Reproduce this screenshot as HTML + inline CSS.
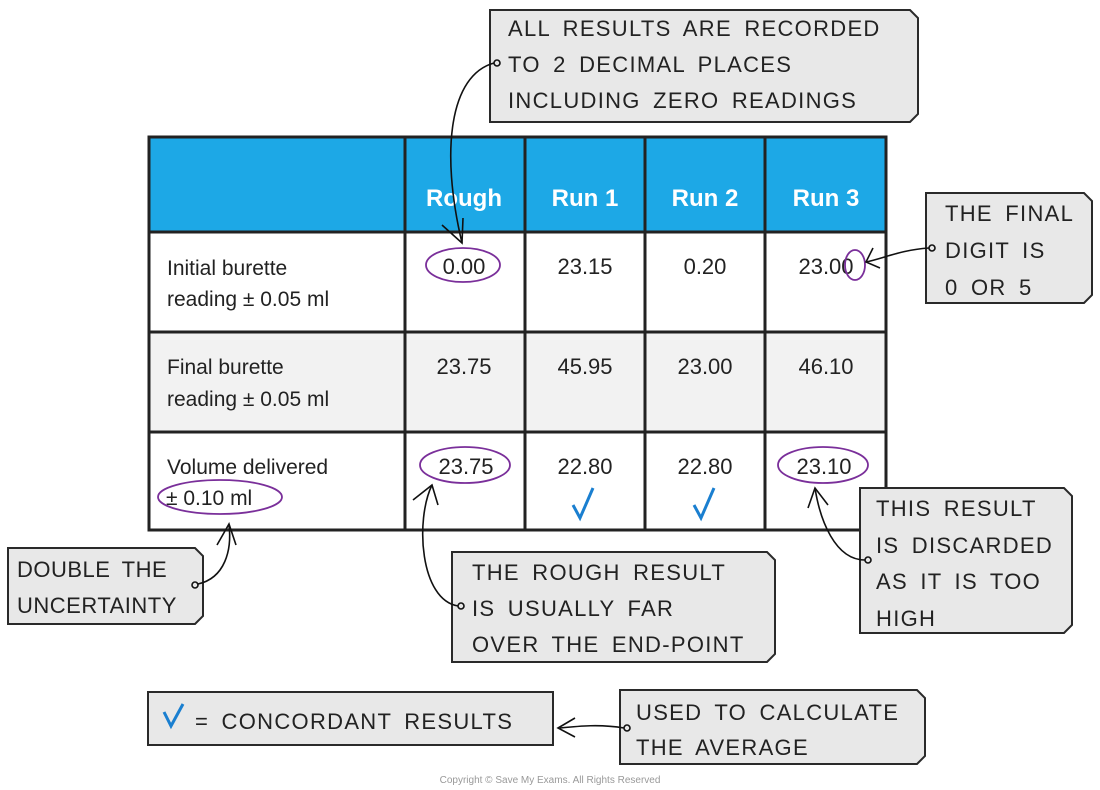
<!DOCTYPE html>
<html><head><style>
body{margin:0;background:#fff;}
svg{display:block}
text{font-family:"Liberation Sans",sans-serif;fill:#222}
.c{font-size:22px;text-anchor:middle}
.l{font-size:21px}
.h{font-size:24px;fill:#fff;font-weight:bold;text-anchor:middle}
.k{font-size:22px;letter-spacing:1.3px;word-spacing:5px}
.box{fill:#e8e8e8;stroke:#2a2a2a;stroke-width:2}
.ar{fill:none;stroke:#111;stroke-width:1.6}
.el{fill:none;stroke:#7a2f9a;stroke-width:1.8}
</style></head><body>
<svg width="1100" height="790" viewBox="0 0 1100 790">
<rect x="149" y="137" width="737" height="95" fill="#1da8e6"/>
<rect x="149" y="332" width="737" height="100" fill="#f2f2f2"/>
<g stroke="#222" stroke-width="3" fill="none">
<rect x="149" y="137" width="737" height="393"/>
<line x1="149" y1="232" x2="886" y2="232"/>
<line x1="149" y1="332" x2="886" y2="332"/>
<line x1="149" y1="432" x2="886" y2="432"/>
<line x1="405" y1="137" x2="405" y2="530"/>
<line x1="525" y1="137" x2="525" y2="530"/>
<line x1="645" y1="137" x2="645" y2="530"/>
<line x1="765" y1="137" x2="765" y2="530"/>
</g>
<text class="h" x="464" y="206">Rough</text>
<text class="h" x="585" y="206">Run 1</text>
<text class="h" x="705" y="206">Run 2</text>
<text class="h" x="826" y="206">Run 3</text>
<text class="l" x="167" y="275">Initial burette</text>
<text class="l" x="167" y="306">reading  ± 0.05 ml</text>
<text class="l" x="167" y="374">Final burette</text>
<text class="l" x="167" y="406">reading  ± 0.05 ml</text>
<text class="l" x="167" y="474">Volume delivered</text>
<text class="l" x="166" y="505">± 0.10 ml</text>
<text class="c" x="464" y="274">0.00</text>
<text class="c" x="585" y="274">23.15</text>
<text class="c" x="705" y="274">0.20</text>
<text class="c" x="826" y="274">23.00</text>
<text class="c" x="464" y="374">23.75</text>
<text class="c" x="585" y="374">45.95</text>
<text class="c" x="705" y="374">23.00</text>
<text class="c" x="826" y="374">46.10</text>
<text class="c" x="466" y="474">23.75</text>
<text class="c" x="585" y="474">22.80</text>
<text class="c" x="705" y="474">22.80</text>
<text class="c" x="824" y="474">23.10</text>
<g class="el">
<ellipse cx="463" cy="265" rx="37" ry="17"/>
<ellipse cx="855" cy="265" rx="10" ry="15"/>
<ellipse cx="465" cy="465" rx="45" ry="18"/>
<ellipse cx="823" cy="465" rx="45" ry="18"/>
<ellipse cx="220" cy="497" rx="62" ry="17"/>
</g>
<g stroke="#1a7fd0" stroke-width="3" fill="none">
<path d="M573 505 L580 518 L593 488"/>
<path d="M694 505 L701 518 L714 488"/>
</g>
<path class="box" d="M490 10 H910 L918 18 V114 L910 122 H490 Z"/>
<text class="k" x="508" y="36">ALL RESULTS ARE RECORDED</text>
<text class="k" x="508" y="72">TO 2 DECIMAL PLACES</text>
<text class="k" x="508" y="108">INCLUDING ZERO READINGS</text>
<path class="box" d="M926 193 H1084 L1092 201 V295 L1084 303 H926 Z"/>
<text class="k" x="945" y="221">THE FINAL</text>
<text class="k" x="945" y="258">DIGIT IS</text>
<text class="k" x="945" y="295">0 OR 5</text>
<path class="box" d="M8 548 H195 L203 556 V616 L195 624 H8 Z"/>
<text class="k" x="17" y="577" style="letter-spacing:0.5px">DOUBLE THE</text>
<text class="k" x="17" y="613" style="letter-spacing:0.5px">UNCERTAINTY</text>
<path class="box" d="M452 552 H767 L775 560 V654 L767 662 H452 Z"/>
<text class="k" x="472" y="580">THE ROUGH RESULT</text>
<text class="k" x="472" y="616">IS USUALLY FAR</text>
<text class="k" x="472" y="652">OVER THE END-POINT</text>
<path class="box" d="M860 488 H1064 L1072 496 V625 L1064 633 H860 Z"/>
<text class="k" x="876" y="516">THIS RESULT</text>
<text class="k" x="876" y="553">IS DISCARDED</text>
<text class="k" x="876" y="589">AS IT IS TOO</text>
<text class="k" x="876" y="626">HIGH</text>
<rect class="box" x="148" y="692" width="405" height="53"/>
<path d="M164 712 L171 726 L183 704" stroke="#1a7fd0" stroke-width="3" fill="none"/>
<text class="k" x="195" y="729">= CONCORDANT RESULTS</text>
<path class="box" d="M620 690 H917 L925 698 V756 L917 764 H620 Z"/>
<text class="k" x="636" y="720">USED TO CALCULATE</text>
<text class="k" x="636" y="755">THE AVERAGE</text>
<g class="ar">
<circle cx="497" cy="63" r="3"/>
<path d="M494 63 C450 75 440 150 462 243"/>
<path d="M442 225 L462 243 L463 218"/>
<circle cx="932" cy="248" r="3"/>
<path d="M929 248 C900 250 885 258 866 262"/>
<path d="M873 248 L866 262 L880 268"/>
<circle cx="195" cy="585" r="3"/>
<path d="M198 584 C225 578 232 550 229 525"/>
<path d="M217 545 L229 524 L236 545"/>
<circle cx="461" cy="606" r="3"/>
<path d="M458 606 C420 600 415 520 432 485"/>
<path d="M413 500 L432 485 L438 505"/>
<circle cx="868" cy="560" r="3"/>
<path d="M865 560 C835 560 820 520 815 488"/>
<path d="M808 508 L815 488 L828 505"/>
<circle cx="627" cy="728" r="3"/>
<path d="M624 728 C600 724 580 726 560 728"/>
<path d="M575 718 L558 728 L575 737"/>
</g>
<text x="550" y="783" style="font-size:10px;fill:#999;text-anchor:middle">Copyright © Save My Exams. All Rights Reserved</text>
</svg>
</body></html>
